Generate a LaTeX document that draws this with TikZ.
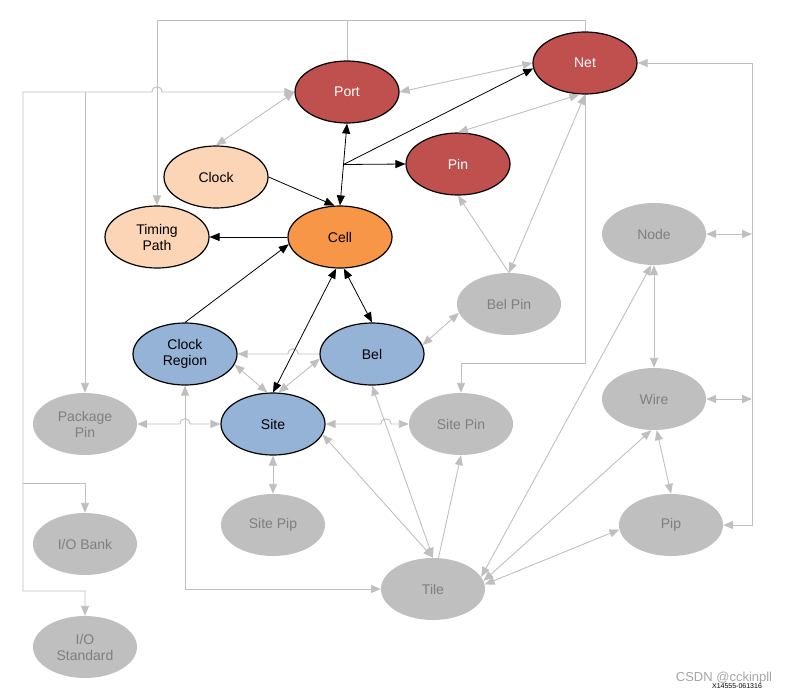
\documentclass[tikz,border=0pt]{standalone}
\usepackage{fontspec}
\setmainfont{Liberation Sans}
\usetikzlibrary{arrows.meta, shapes.geometric, calc}

\definecolor{netred}{HTML}{C0504D}
\definecolor{cellorange}{HTML}{F79646}
\definecolor{clockpeach}{HTML}{FBD5B5}
\definecolor{siteblue}{HTML}{95B3D7}
\definecolor{physgray}{HTML}{BFBFBF}
\definecolor{phystext}{HTML}{7F7F7F}

\begin{document}
\begin{tikzpicture}[
    x=1pt, y=-1pt,
    >={Triangle[length=10pt, width=8pt]},
    obj/.style={ellipse, minimum width=104pt, minimum height=62pt,
                inner sep=0pt, align=center,
                font=\fontsize{14}{16}\selectfont},
    logic/.style={obj, draw=black, line width=1.2pt},
    phys/.style={obj, fill=physgray, text=phystext},
    blk/.style={draw=black, line width=0.8pt},
    gry/.style={draw=physgray, line width=0.9pt}
  ]
  \useasboundingbox (0,0) rectangle (791,696);

  % Logical objects
  \node[logic, fill=netred, text=white] (port) at (347,92) {Port};
  \node[logic, fill=netred, text=white] (net) at (585,63) {Net};
  \node[logic, fill=netred, text=white] (pin) at (458,164) {Pin};
  \node[logic, fill=clockpeach] (clock) at (216,177) {Clock};
  \node[logic, fill=clockpeach] (timing) at (157,237) {Timing\\Path};
  \node[logic, fill=cellorange] (cell) at (340,237) {Cell};
  \node[logic, fill=siteblue] (clkreg) at (185,354) {Clock\\Region};
  \node[logic, fill=siteblue] (bel) at (372,354) {Bel};
  \node[logic, fill=siteblue] (site) at (273,424) {Site};

  % Physical objects
  \foreach \n/\x/\y/\t in {belpin/509/304/Bel Pin, sitepin/461/424/Site Pin,
      node/654/234/Node, wire/654/399/Wire, pip/671/525/Pip,
      pkgpin/85/424/{Package\\Pin}, iobank/85/544/{I/O Bank},
      iostd/85/647/{I/O\\Standard}, sitepip/273/525/Site Pip, tile/433/589/Tile} {
    \node[phys] (\n) at (\x,\y) {\t};
  }

  \coordinate (topY) at (0,20);
  \coordinate (busL) at (23,591);
  \coordinate (bankT) at (23,483);
  \coordinate (busR) at (752,525);
  \coordinate (netdrop) at (585,363);
  \coordinate (split) at ($(cell.north)!0.5!(port.south)$);

  % Gray links: top and right
  \draw[gry,->] (net.north) -- (net.north |- topY) -| (timing.north);
  \draw[gry] (port.north) -- (port.north |- topY);
  \draw[gry,<->] (port.east) -- (net.west);
  \draw[gry,<->] (pin.north) -- (net.260);
  \draw[gry,<->] (belpin.north) -- (net.south);
  \draw[gry,->] (belpin.north) -- (pin.south);
  \draw[gry,->] (net.south) -- (netdrop) -| (sitepin.north);
  \draw[gry,<->] (net.east) -| (busR) -- (pip.east);
  \draw[gry,<->] (node.east) -- (node.east -| busR);
  \draw[gry,<->] (wire.east) -- (wire.east -| busR);
  \draw[gry,<->] (clock.north) -- (port.west);

  % Gray links: left side
  \draw[gry,<->] (port.west) -- (162,92) .. controls (162,85) and (152,85) .. (152,92)
    -- (busL |- port.west) -- (busL) -| (iostd.north);
  \draw[gry,->] (pkgpin.north |- port.west) -- (pkgpin.north);
  \draw[gry,->] (bankT) -| (iobank.north);
  \draw[gry,<->] (pkgpin.east) -- (180,424) .. controls (180,417) and (190,417) .. (190,424)
    -- (site.west);
  \draw[gry,<->] (clkreg.south) -- (clkreg.south |- tile.west) -- (tile.west);

  % Gray links: site, bel and tile
  \draw[gry,->] (bel.west) -- (298,354) .. controls (298,347) and (288,347) .. (288,354)
    -- (clkreg.east);
  \draw[gry,<->] (clkreg.-12) -- (site.100);
  \draw[gry,<->] (site.80) -- (bel.185);
  \draw[gry,<->] (site.east) -- (381,424) .. controls (381,417) and (391,417) .. (391,424)
    -- (sitepin.west);
  \draw[gry,<->] (site.south) -- (sitepip.north);
  \draw[gry,<->] (site.-12) -- (tile.north);
  \draw[gry,<->] (bel.south) -- (tile.north);
  \draw[gry,->] (tile.80) -- (sitepin.south);
  \draw[gry,<->] (bel.10) -- (belpin.190);
  \draw[gry,<->] (tile.14) -- (node.-95);
  \draw[gry,<->] (tile.9) -- (wire.-95);
  \draw[gry,<->] (tile.5) -- (pip.185);
  \draw[gry,<->] (node.south) -- (wire.north);
  \draw[gry,<->] (wire.-85) -- (pip.north);

  % Black links around the cell
  \draw[blk,<->] (cell.north) -- (port.south);
  \draw[blk,->] (split) -- (net.186);
  \draw[blk,->] (split) -- (pin.west);
  \draw[blk,->] (clock.east) -- (cell.100);
  \draw[blk,->] (cell.west) -- (timing.east);
  \draw[blk,->] (clkreg.north) -- (cell.188);
  \draw[blk,<->] (cell.263) -- (site.north);
  \draw[blk,<->] (cell.277) -- (bel.north);

  % Watermark
  \node[font=\fontsize{13}{15}\selectfont, text=gray!70] (mark) at (724,678) {CSDN @cckinpll};
  \node[font=\fontsize{7}{8}\selectfont] (figid) at (737,686) {X14555-061316};
\end{tikzpicture}
\end{document}
